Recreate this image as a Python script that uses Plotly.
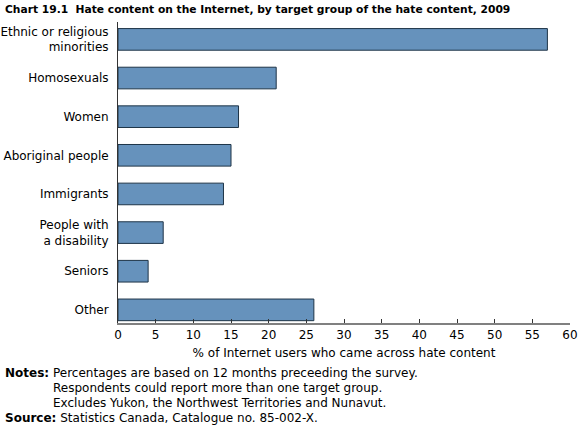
import plotly.graph_objects as go

categories = ["Ethnic or religious<br>minorities", "Homosexuals", "Women", "Aboriginal people",
              "Immigrants", "People with<br>a disability", "Seniors", "Other"]
values = [57, 21, 16, 15, 14, 6, 4, 26]
x_ticks = list(range(0, 61, 5))

title = "Chart 19.1  Hate content on the Internet, by target group of the hate content, 2009"
x_title = "% of Internet users who came across hate content"
notes = ["Percentages are based on 12 months preceeding the survey.",
         "Respondents could report more than one target group.",
         "Excludes Yukon, the Northwest Territories and Nunavut."]
source = "Statistics Canada, Catalogue no. 85-002-X."

FONT = "DejaVu Sans"
W, H = 580, 430
l, r, t, b = 118, 10, 22, 107
pw, ph = W - l - r, H - t - b

fig = go.Figure(go.Bar(
    x=values, y=categories, orientation="h",
    marker=dict(color="#6692BC", line=dict(color="#1E3447", width=1)),
    width=0.56,
))

fig.update_layout(
    width=W, height=H,
    margin=dict(l=l, r=r, t=t, b=b, autoexpand=False),
    plot_bgcolor="white", paper_bgcolor="white",
    font=dict(family=FONT, size=12, color="black"),
    showlegend=False,
    xaxis=dict(range=[0, 60], tickvals=x_ticks, showgrid=False, zeroline=False,
               showline=True, linecolor="#808080", linewidth=2, automargin=False,
               ticks="inside", ticklen=4, tickcolor="#333", tickfont=dict(size=12),
               title=dict(text=x_title, font=dict(size=12), standoff=7)),
    yaxis=dict(range=[7.34, -0.45], showgrid=False, zeroline=False, automargin=False,
               showline=True, linecolor="#333", linewidth=1, ticks="",
               ticklabelstandoff=6, tickfont=dict(size=12)),
)

def px(x, y):
    return (x - l) / pw, 1 - (y - t) / ph

def note(text, x, y, size=12):
    xx, yy = px(x, y)
    fig.add_annotation(text=text, x=xx, y=yy, xref="paper", yref="paper",
                       xanchor="left", yanchor="middle", showarrow=False,
                       font=dict(size=size))

note("<b>" + title + "</b>", 3, 10, size=10.7)
note("<b>Notes:</b>", 3, 373)
ann_y = [373, 388, 403]
for i, line in enumerate(notes):
    note(line, 51, ann_y[i])
note("<b>Source:</b> " + source, 3, 418)

fig.write_html("out.html", config={"displayModeBar": False},
               post_script="document.body.style.margin='0';document.body.style.overflow='hidden';")
